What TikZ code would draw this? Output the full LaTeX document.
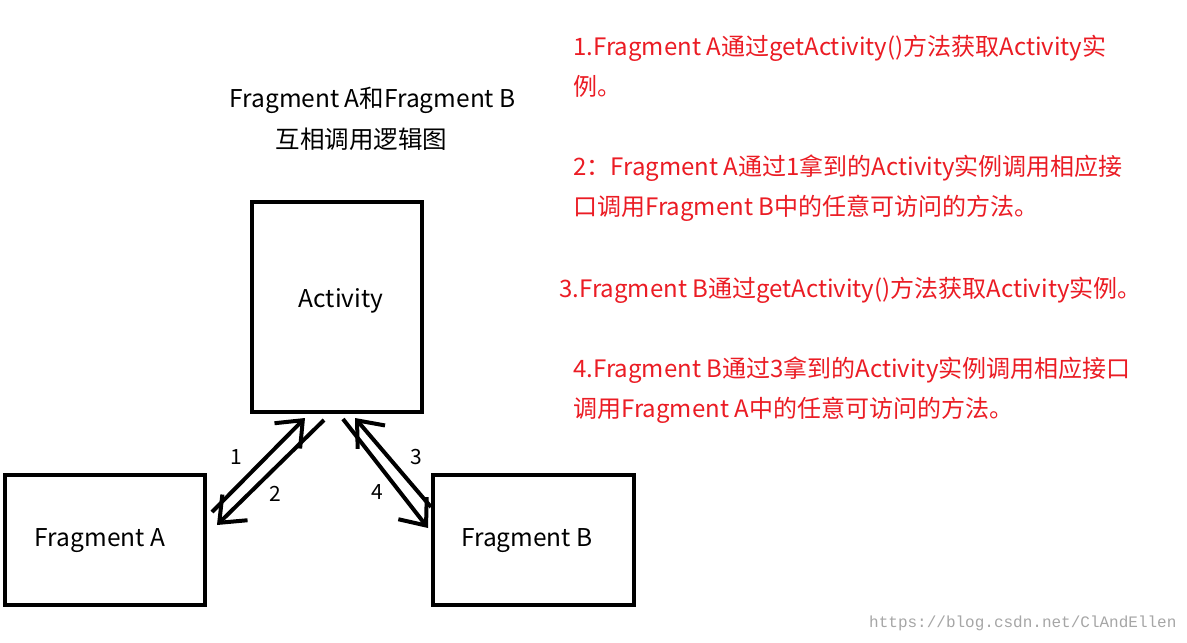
\documentclass[tikz,border=0pt]{standalone}
\usepackage{fontspec}
\setmainfont{Noto Sans CJK SC}
\newfontfamily\wmfont{Liberation Mono}
\usetikzlibrary{arrows.meta}
\definecolor{notered}{RGB}{235,28,36}
\tikzset{
  boxed/.style={draw, line width=4pt, inner sep=0pt},
  link/.style={line width=4pt, -{Straight Barb[length=22pt,width=36pt,line width=4pt]}},
  note/.style={anchor=west, text=notered, font=\fontsize{24}{40}\selectfont, align=left},
  label/.style={font=\fontsize{24.5}{28}\selectfont},
  num/.style={font=\fontsize{21}{24}\selectfont}
}
\begin{document}
\begin{tikzpicture}[x=1pt,y=-1pt]
                \useasboundingbox (0,0) rectangle (1187,643);
                \fill[white] (0,0) rectangle (1187,643);
                % boxes
                \node[boxed, minimum width=170pt, minimum height=210pt] (act) at (337,307) {};
                \node[label] at (341,301) {Activity};
                \node[boxed, minimum width=200pt, minimum height=130pt] (fa) at (105,540) {};
                \node[label] at (100,541) {Fragment A};
                \node[boxed, minimum width=201pt, minimum height=130pt] (fb) at (533,540) {};
                \node[label] at (527,541) {Fragment B};
                % title
                \node[font=\fontsize{24.5}{41}\selectfont, align=left, anchor=north west] (title) at (226,84)
                  {Fragment A和Fragment B\\\hspace*{46pt}互相调用逻辑图};
                % links
                \coordinate (a1) at (212,512); \coordinate (c1) at (305,418);
                \coordinate (c2) at (324,420); \coordinate (a2) at (217,525);
                \coordinate (b3) at (431,507); \coordinate (c3) at (355,418);
                \coordinate (c4) at (343,419); \coordinate (b4) at (428,528);
                \draw[link] (a1) -- (c1);
                \draw[link] (c2) -- (a2);
                \draw[link] (b3) -- (c3);
                \draw[link] (c4) -- (b4);
                \node[num] at (236,457) {1};
                \node[num] at (275,494) {2};
                \node[num] at (416,457) {3};
                \node[num] at (377,492) {4};
                % notes
                \node[note] (n1) at (570,66) {1.Fragment A通过getActivity()方法获取Activity实\\例。};
                \node[note] (n2) at (570,188) {2：Fragment A通过1拿到的Activity实例调用相应接\\口调用Fragment B中的任意可访问的方法。};
                \node[note] (n3) at (556,290) {3.Fragment B通过getActivity()方法获取Activity实例。};
                \node[note] (n4) at (570,390) {4.Fragment B通过3拿到的Activity实例调用相应接口\\调用Fragment A中的任意可访问的方法。};
                \node[anchor=east, text=gray!70, font=\wmfont\fontsize{16}{18}\selectfont] at (1180,623) {https://blog.csdn.net/ClAndEllen};
            \end{tikzpicture}
\end{document}
